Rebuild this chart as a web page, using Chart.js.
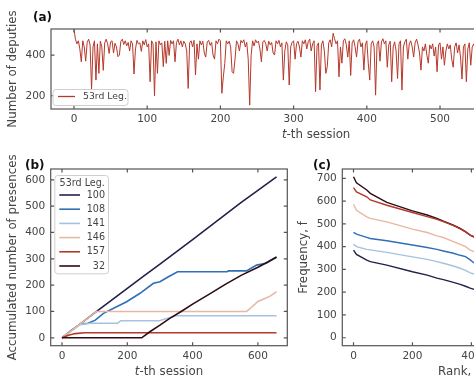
<!DOCTYPE html>
<html><head><meta charset="utf-8">
<script src="https://cdn.jsdelivr.net/npm/chart.js@4"></script>
<style>
html,body{margin:0;padding:0;background:#fff;}
body{width:474px;height:383px;overflow:hidden;position:relative;font-family:"DejaVu Sans",sans-serif;}
canvas{position:absolute;}
.lab{position:absolute;font-weight:bold;font-size:12px;color:#111;line-height:12px;white-space:nowrap;}
</style></head><body>
<canvas id="ca" width="600" height="150" style="left:0;top:0"></canvas>
<canvas id="cb" width="300" height="233" style="left:0;top:150px"></canvas>
<canvas id="cc" width="310" height="233" style="left:290px;top:150px"></canvas>
<div class="lab" style="left:33px;top:11px">(a)</div>
<div class="lab" style="left:25px;top:159px">(b)</div>
<div class="lab" style="left:313px;top:159px">(c)</div>
<script>
// ---------- Panel (a): number of deputies per session (53rd Leg.) ----------
const sessionsA = [
0,2,4,6,8,10,12,14,16,18,20,22,24,26,28,30,32,34,36,38,
40,42,44,46,48,50,52,54,56,58,60,62,64,66,68,70,72,74,76,78,
80,82,84,86,88,90,92,94,96,98,100,102,104,106,108,110,112,114,116,118,
120,122,124,126,128,130,132,134,136,138,140,142,144,146,148,150,152,154,156,158,
160,162,164,166,168,170,172,174,176,178,180,182,184,186,188,190,192,194,196,198,
200,202,204,206,208,210,212,214,216,218,220,222,224,226,228,230,232,234,236,238,
240,242,244,246,248,250,252,254,256,258,260,262,264,266,268,270,272,274,276,278,
280,282,284,286,288,290,292,294,296,298,300,302,304,306,308,310,312,314,316,318,
320,322,324,326,328,330,332,334,336,338,340,342,344,346,348,350,352,354,356,358,
360,362,364,366,368,370,372,374,376,378,380,382,384,386,388,390,392,394,396,398,
400,402,404,406,408,410,412,414,416,418,420,422,424,426,428,430,432,434,436,438,
440,442,444,446,448,450,452,454,456,458,460,462,464,466,468,470,472,474,476,478,
480,482,484,486,488,490,492,494,496,498,500,502,504,506,508,510,512,514,516,518,
520,522,524,526,528,530,532,534,536,538,540,542,544,546,548];
const deputiesA = [
526,478,455,470,430,367,470,440,370,462,
478,450,231,440,470,277,455,310,468,440,
325,460,478,455,408,465,470,410,458,440,
392,400,468,478,452,470,445,462,420,470,
455,307,430,472,455,460,418,470,450,476,
440,455,269,470,455,200,465,310,470,450,
460,343,468,359,470,398,472,455,470,367,
462,478,450,470,440,468,455,420,236,460,
470,440,472,302,455,380,470,450,468,410,
390,465,472,448,462,400,380,470,455,478,
470,212,293,359,470,455,468,440,318,310,
380,470,455,420,472,460,475,440,462,380,
154,400,470,445,475,460,468,430,367,465,
472,455,420,468,450,462,410,400,470,455,
472,440,460,277,420,465,450,253,440,462,
470,380,455,468,440,390,470,455,475,430,
465,478,420,455,470,220,445,460,228,450,
470,420,310,343,460,475,440,507,480,455,
470,293,440,360,470,480,450,390,470,300,
460,475,440,390,465,478,440,460,326,450,
470,360,277,455,470,440,203,455,470,370,
465,480,455,470,340,450,468,269,440,465,
420,285,455,470,228,440,465,478,380,455,
470,440,390,460,478,450,410,326,440,420,
455,400,360,450,430,455,395,440,318,450,
460,380,440,350,420,455,430,450,380,340,
440,460,410,450,390,282,440,455,269,430,
460,350,440,455,430];
const xTicksA = [0,100,200,300,400,500,600];
const yTicksA = [200,400];

// ---------- Panel (b): accumulated presences of selected deputies ----------
const deputyLabels = ['100','108','141','146','157','32'];
const sess100 = [0,50,100,150,200,250,300,350,400,450,500,550,600,657];
const pres100 = [0,47,95,141,188,234,280,326,373,420,468,515,560,611];
const sess108 = [0,30,57,80,102,127,158,198,239,280,300,326,354,505,510,565,596,625,657];
const pres108 = [0,30,52,55,67,93,112,137,169,207,213,232,251,251,254,254,276,283,306];
const sess141 = [0,55,87,170,180,298,326,351,657];
const pres141 = [0,50,55,55,65,65,75,84,84];
const sess146 = [0,106,565,580,600,620,640,657];
const pres146 = [0,100,100,115,138,148,160,175];
const sess157 = [0,20,40,70,657];
const pres157 = [0,10,16,19,19];
const sess32 = [0,244,269,300,330,365,400,450,500,550,600,630,657];
const pres32 = [0,0,23,48,74,100,128,165,203,238,268,288,307];
const xTicksB = [0,200,400,600];
const yTicksB = [0,100,200,300,400,500,600];

// ---------- Panel (c): frequency vs rank ----------
const ranksC = [0,10,45,57,113,200,250,283,305,339,362,380,396,409];
const freqMaroon = [707,680,649,634,594,557,539,524,512,495,480,466,451,442];
const freqRed    = [659,640,619,605,582,550,532,520,510,492,478,465,451,444];
const freqSalmon = [586,560,531,524,509,477,462,447,440,422,410,400,385,378];
const freqBlue   = [463,455,441,436,426,407,396,388,381,371,362,356,342,328];
const freqLight  = [411,400,388,386,375,355,344,334,327,315,305,296,285,280];
const freqNavy   = [385,366,341,334,319,290,275,262,255,243,234,226,218,212];
const xTicksC = [0,200,400,600];
const yTicksC = [0,100,200,300,400,500,600,700];

// ---------- styling ----------
const TXT = '#444444';
const FRAME = '#555555';
const C_NAVY = '#21214a', C_BLUE = '#2f6fb5', C_LIGHT = '#a7c2dc',
      C_SALMON = '#e8b7a3', C_RED = '#b5392b', C_MAROON = '#2e0c15';
Chart.defaults.font.family = '"DejaVu Sans", sans-serif';
Chart.defaults.color = TXT;

const pts = (xs, ys) => xs.map((x, i) => ({x: x, y: ys[i]}));

const frameTicks = {
  id: 'frameTicks',
  afterDatasetsDraw(chart) {
    const {ctx, chartArea: a, scales} = chart;
    const L = 3.5;
    ctx.save();
    ctx.strokeStyle = FRAME; ctx.lineWidth = 1.2;
    ctx.beginPath();
    scales.x.ticks.forEach(t => {
      const p = scales.x.getPixelForValue(t.value);
      if (p < a.left || p > a.right) return;
      ctx.moveTo(p, a.bottom); ctx.lineTo(p, a.bottom - L);
      ctx.moveTo(p, a.top); ctx.lineTo(p, a.top + L);
    });
    scales.y.ticks.forEach(t => {
      const p = scales.y.getPixelForValue(t.value);
      if (p < a.top || p > a.bottom) return;
      ctx.moveTo(a.left, p); ctx.lineTo(a.left + L, p);
      ctx.moveTo(a.right, p); ctx.lineTo(a.right - L, p);
    });
    ctx.stroke();
    ctx.strokeRect(a.left, a.top, a.right - a.left, a.bottom - a.top);
    ctx.restore();
  }
};

const xTitle = {
  id: 'xTitle',
  afterDraw(chart, args, o) {
    if (!o.parts) return;
    const {ctx, chartArea: a} = chart;
    ctx.save();
    ctx.fillStyle = TXT; ctx.textBaseline = 'middle'; ctx.textAlign = 'left';
    const fontOf = p => (p.italic ? 'italic ' : '') + o.size + 'px "DejaVu Sans", sans-serif';
    const widths = o.parts.map(p => { ctx.font = fontOf(p); return ctx.measureText(p.text).width; });
    const total = widths.reduce((s, w) => s + w, 0);
    let x = (a.left + a.right) / 2 - total / 2;
    o.parts.forEach((p, i) => { ctx.font = fontOf(p); ctx.fillText(p.text, x, o.y); x += widths[i]; });
    ctx.restore();
  }
};

const boxLegend = {
  id: 'boxLegend',
  afterDraw(chart, args, o) {
    if (!o.box) return;
    const ctx = chart.ctx;
    const b = o.box;
    ctx.save();
    ctx.beginPath();
    if (ctx.roundRect) ctx.roundRect(b[0] + 0.5, b[1] + 0.5, b[2] - b[0], b[3] - b[1], 3);
    else ctx.rect(b[0] + 0.5, b[1] + 0.5, b[2] - b[0], b[3] - b[1]);
    ctx.fillStyle = 'rgba(255,255,255,0.85)'; ctx.fill();
    ctx.strokeStyle = '#cfcfcf'; ctx.lineWidth = 1; ctx.stroke();
    ctx.font = o.size + 'px "DejaVu Sans", sans-serif';
    ctx.fillStyle = TXT; ctx.textBaseline = 'middle';
    if (o.title) { ctx.textAlign = 'center'; ctx.fillText(o.title, o.titleX, o.titleY); }
    chart.data.datasets.forEach((ds, i) => {
      const y = o.y0 + i * o.dy;
      ctx.strokeStyle = ds.borderColor; ctx.lineWidth = o.lineW;
      ctx.beginPath(); ctx.moveTo(o.lx0, y); ctx.lineTo(o.lx1, y); ctx.stroke();
      ctx.fillStyle = TXT; ctx.textAlign = o.align; ctx.fillText(ds.label, o.tx, y);
    });
    ctx.restore();
  }
};

function axis(min, max, tickList, fitProp, fitVal, pad, title, titlePad) {
  const s = {
    type: 'linear', min: min, max: max,
    grid: {display: false, drawTicks: false},
    border: {display: false},
    ticks: {autoSkip: false, maxRotation: 0, padding: pad, color: TXT, font: {size: 10.5}},
    afterBuildTicks: sc => { sc.ticks = tickList.map(v => ({value: v})); },
    afterFit: sc => { sc[fitProp] = fitVal; }
  };
  if (title) s.title = {display: true, text: title, color: TXT, font: {size: 11.8}, padding: {top: titlePad, bottom: 0}};
  return s;
}

function baseOptions(padding, scales, plugins) {
  return {
    responsive: false, animation: false, devicePixelRatio: 1, events: [],
    layout: {padding: padding},
    elements: {point: {radius: 0}, line: {tension: 0}},
    scales: scales,
    plugins: Object.assign({legend: {display: false}, tooltip: {enabled: false}}, plugins)
  };
}

const ITALIC_T = [{text: 't', italic: true}, {text: '-th session', italic: false}];

// Panel (a)
new Chart(document.getElementById('ca'), {
  type: 'line',
  data: {datasets: [{label: '53rd Leg.', data: pts(sessionsA, deputiesA), borderColor: C_RED, borderWidth: 1, fill: false}]},
  options: baseOptions({top: 29, right: 18.7, bottom: 0, left: 0}, {
    x: axis(-31.4, 693, xTicksA, 'height', 41, 4),
    y: axis(135, 528, yTicksA, 'width', 51, 5.5, 'Number of deputies', 6)
  }, {
    xTitle: {parts: ITALIC_T, y: 135, size: 11.8},
    boxLegend: {box: [52.5, 89, 127.5, 105], size: 9.3, lineW: 1.3, y0: 96.5, dy: 0, lx0: 58, lx1: 75, tx: 83, align: 'left'}
  }),
  plugins: [frameTicks, xTitle, boxLegend]
});

// Panel (b)
const colorsB = [C_NAVY, C_BLUE, C_LIGHT, C_SALMON, C_RED, C_MAROON];
const seriesB = [pts(sess100, pres100), pts(sess108, pres108), pts(sess141, pres141),
                 pts(sess146, pres146), pts(sess157, pres157), pts(sess32, pres32)];
new Chart(document.getElementById('cb'), {
  type: 'line',
  data: {datasets: seriesB.map((d, i) => ({label: deputyLabels[i], data: d, borderColor: colorsB[i], borderWidth: 1.6, fill: false, order: 6 - i}))},
  options: baseOptions({top: 19, right: 12.7, bottom: 0, left: 0}, {
    x: axis(-34.6, 690, xTicksB, 'height', 37.3, 4),
    y: axis(-30, 641, yTicksB, 'width', 50.7, 5.5, 'Accumulated number of presences', 6)
  }, {
    xTitle: {parts: ITALIC_T, y: 222, size: 11.8},
    boxLegend: {box: [54.3, 25, 108, 123.3], size: 9.6, lineW: 1.6, title: '53rd Leg.', titleX: 82.2, titleY: 33.3,
                y0: 45, dy: 14.2, lx0: 59.3, lx1: 80, tx: 105, align: 'right'}
  }),
  plugins: [frameTicks, xTitle, boxLegend]
});

// Panel (c)
const colorsC = [C_MAROON, C_RED, C_SALMON, C_BLUE, C_LIGHT, C_NAVY];
const seriesC = [freqMaroon, freqRed, freqSalmon, freqBlue, freqLight, freqNavy];
const namesC = ['Curve 1', 'Curve 2', 'Curve 3', 'Curve 4', 'Curve 5', 'Curve 6'];
new Chart(document.getElementById('cc'), {
  type: 'line',
  data: {datasets: seriesC.map((v, i) => ({label: namesC[i], data: pts(ranksC, v), borderColor: colorsC[i], borderWidth: 1.4, fill: false, order: 6 - i}))},
  options: baseOptions({top: 19, right: 24.3, bottom: 0, left: 0}, {
    x: axis(-38, 754, xTicksC, 'height', 37.3, 4),
    y: axis(-35, 741, yTicksC, 'width', 52.3, 5.5, 'Frequency, f', 7)
  }, {
    xTitle: {parts: [{text: 'Rank, r', italic: false}], y: 222, size: 11.8}
  }),
  plugins: [frameTicks, xTitle]
});
</script>
</body></html>
